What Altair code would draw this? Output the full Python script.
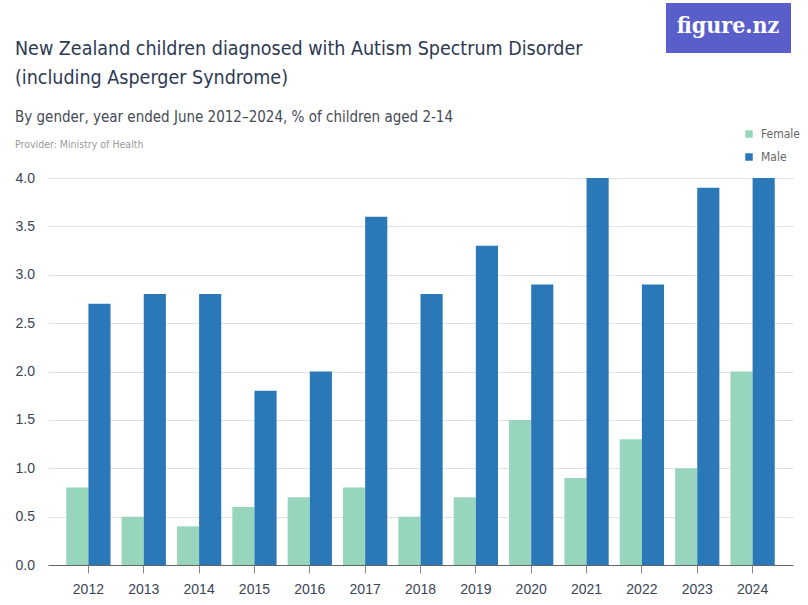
import altair as alt
import pandas as pd

years = ["2012", "2013", "2014", "2015", "2016", "2017", "2018",
         "2019", "2020", "2021", "2022", "2023", "2024"]
female = [0.8, 0.5, 0.4, 0.6, 0.7, 0.8, 0.5, 0.7, 1.5, 0.9, 1.3, 1.0, 2.0]
male = [2.7, 2.8, 2.8, 1.8, 2.0, 3.6, 2.8, 3.3, 2.9, 4.0, 2.9, 3.9, 4.0]
genders = ["Female", "Male"]
colors = ["#97d6bd", "#2a78b8"]

title_lines = ["New Zealand children diagnosed with Autism Spectrum Disorder",
               "(including Asperger Syndrome)"]
subtitle = "By gender, year ended June 2012\u20132024, % of children aged 2-14"
provider = "Provider: Ministry of Health"

rows = []
for i, y in enumerate(years):
    rows.append({"year": y, "gender": "Female", "value": female[i]})
    rows.append({"year": y, "gender": "Male", "value": male[i]})
df = pd.DataFrame(rows)

NARROW = "DejaVu Sans Condensed, Liberation Sans Narrow, sans-serif"
AXIS_FONT = "Liberation Sans, Arial, sans-serif"
W, H = 745, 387

bars = alt.Chart(df).mark_bar().encode(
    x=alt.X("year:N", sort=years, title=None,
            scale=alt.Scale(paddingInner=0.2, paddingOuter=0.33),
            axis=alt.Axis(labelAngle=0, domainColor="#666666", tickColor="#888888",
                          tickSize=8, labelPadding=9, labelFontSize=14,
                          labelColor="#3a4454", labelFont=AXIS_FONT, grid=False)),
    xOffset=alt.XOffset("gender:N", sort=genders),
    y=alt.Y("value:Q", title=None,
            scale=alt.Scale(domain=[0, 4], nice=False),
            axis=alt.Axis(values=[0, 0.5, 1, 1.5, 2, 2.5, 3, 3.5, 4], format=".1f",
                          domain=False, ticks=False, tickSize=0, labelAlign="left",
                          labelPadding=33, labelFontSize=14, labelColor="#3a4454",
                          labelFont=AXIS_FONT, gridColor="#e2e2e2", gridWidth=1)),
    color=alt.Color("gender:N", sort=genders,
                    scale=alt.Scale(domain=genders, range=colors),
                    legend=alt.Legend(orient="none", legendX=695, legendY=-50,
                                      title=None, symbolType="square", symbolSize=56,
                                      symbolStrokeWidth=0, labelFontSize=12,
                                      labelColor="#666666", labelFont=NARROW,
                                      rowPadding=11, labelOffset=6)),
)

text_df = pd.DataFrame({
    "t": [title_lines[0], title_lines[1], subtitle, provider],
    "k": ["t1", "t2", "sub", "prov"],
})

def text_layer(k, y, size, color):
    return alt.Chart(text_df).transform_filter(alt.datum.k == k).mark_text(
        align="left", baseline="alphabetic", font=NARROW, fontSize=size, color=color
    ).encode(text="t:N", x=alt.value(-33), y=alt.value(y))

t1 = text_layer("t1", -123, 19.5, "#2c3a52")
t2 = text_layer("t2", -94, 19.5, "#2c3a52")
sub = text_layer("sub", -56, 15, "#444b55")
prov = text_layer("prov", -30, 10.5, "#9a9a9a")

logo_df = pd.DataFrame({"label": ["figure.nz"]})
logo_box = alt.Chart(logo_df).mark_rect(color="#5a5ecb").encode(
    x=alt.value(618), x2=alt.value(743), y=alt.value(-175), y2=alt.value(-125))
logo_txt = alt.Chart(logo_df).mark_text(
    font="DejaVu Serif Condensed, DejaVu Serif, serif", fontSize=23, fontWeight="bold",
    color="white", align="center", baseline="middle").encode(
    text="label:N", x=alt.value(680), y=alt.value(-152))

chart = alt.layer(bars, t1, t2, sub, prov, logo_box, logo_txt).properties(
    width=W, height=H,
    autosize=alt.AutoSizeParams(type="none"),
    padding={"left": 48, "top": 178, "right": 15, "bottom": 40},
    background="white",
).configure_view(stroke=None)

chart.save("out.html", embed_options={"renderer": "svg", "actions": False})
